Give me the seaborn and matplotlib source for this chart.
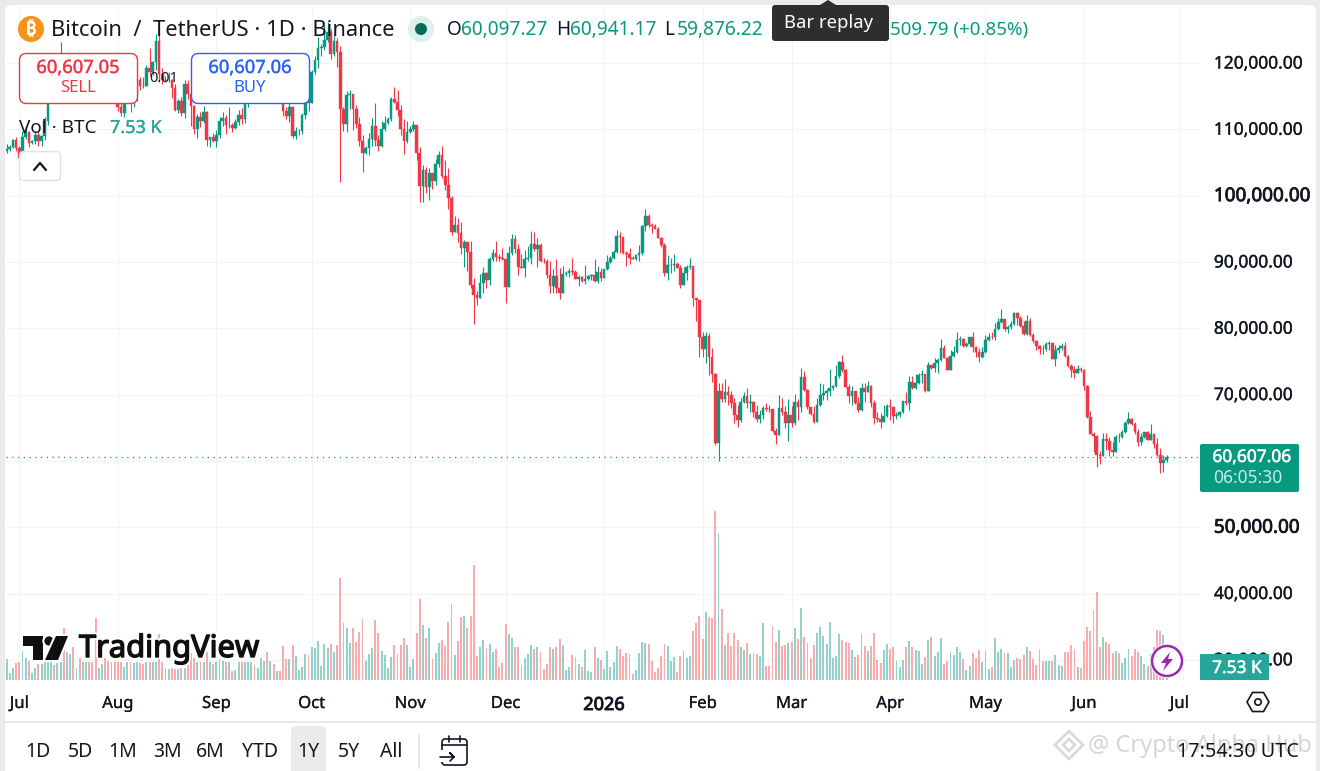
import matplotlib
matplotlib.use('Agg')
import matplotlib.pyplot as plt
import matplotlib.patheffects as pe
from matplotlib.patches import Circle, FancyBboxPatch, Polygon, Rectangle, RegularPolygon
from matplotlib.transforms import ScaledTranslation
import numpy as np
import pandas as pd
import seaborn as sns

# daily candles, one line per month
closes = [
    107100, 107300, 108400, 107150,
    105700, 108850, 109600, 108000, 108250, 109200, 108250, 108950, 111300, 116000, 117500, 117400, 119100, 119800, 117700, 118700, 119200, 117300, 117900, 117300, 117400, 120000, 118700, 118300, 117600, 117900, 119400, 118000, 117800, 117800, 115700,
    113300, 112500, 114200, 115100, 114100, 115000, 117500, 116600, 116500, 119300, 118700, 120200, 123300, 118300, 117400, 117400, 117500, 116200, 112900, 114300, 112500, 116900, 115400, 113500, 110100, 111800, 111200, 112600, 108400, 108800, 108300,
    109200, 111200, 111700, 110700, 110700, 110200, 111100, 112100, 111500, 113900, 115500, 116000, 115300, 115300, 115400, 116800, 116500, 117000, 115600, 115700, 115300, 112700, 112000, 113300, 109000, 109700, 109700, 112100, 114400, 114000,
    118600, 120500, 122200, 122400, 123500, 124700, 121400, 123300, 121700, 113000, 110800, 115100, 115300, 113000, 110800, 108200, 106400, 107200, 108600, 110500, 108400, 107500, 110000, 111000, 111600, 114500, 114100, 112900, 110000, 108300, 109600,
    110050, 110600, 106500, 101500, 103870, 101360, 103370, 102260, 104770, 106130, 103020, 101610, 99700, 94570, 95580, 94320, 92160, 92970, 91560, 86580, 85030, 84620, 86780, 88290, 87290, 90450, 91310, 90750, 90650, 90400,
    86280, 91310, 93470, 91960, 89300, 89150, 90400, 90550, 92710, 91960, 92560, 90200, 90150, 88040, 86380, 87890, 86130, 85330, 88190, 88290, 88590, 88490, 87490, 87790, 87140, 87440, 87940, 88040, 87190, 88440, 87590,
    88900, 90000, 90650, 91510, 93920, 93820, 91310, 91160, 90550, 90500, 91000, 91310, 95430, 96940, 95630, 95430, 95030, 93670, 92560, 88340, 89550, 89600, 89700, 89150, 86530, 88290, 89200, 89400, 84620, 84220, 78750,
    76890, 78850, 75730, 73120, 62770, 70550, 69300, 70400, 69950, 68800, 66940, 66180, 68900, 69800, 68800, 68900, 67440, 66380, 66940, 68000, 67890, 67790, 64520, 63970, 68000, 67440, 65780, 66940,
    65680, 68900, 68190, 72650, 70690, 68070, 67070, 65910, 68430, 69880, 70190, 70540, 70990, 71290, 72800, 74910, 73710, 71140, 69780, 70540, 68780, 67670, 70990, 70390, 71290, 68780, 66470, 66370, 65910, 66820, 68280,
    68080, 66770, 66870, 67370, 69030, 68780, 71900, 70940, 71740, 72950, 73100, 70540, 74460, 74010, 74710, 75210, 77020, 75520, 73710, 75820, 76420, 78230, 78330, 77320, 77580, 78680, 77220, 76370, 75720, 76420,
    78230, 78730, 78680, 79890, 80940, 81400, 79940, 80140, 80640, 82300, 81550, 80340, 79080, 81090, 78980, 78080, 77320, 76870, 76820, 77630, 77730, 75360, 76770, 76970, 77320, 75820, 74310, 73650, 73300, 73860, 73650,
    71290, 66670, 64050, 63800, 60890, 60790, 63300, 63050, 61640, 61390, 63600, 63550, 64410, 65760, 66320, 65560, 64300, 62900, 63550, 64300, 63150, 64000, 62550, 60890, 59630, 60097, 60607,
]
highs = [
    107800, 107600, 108600, 108800,
    107500, 109800, 110500, 109700, 108400, 109700, 109700, 109200, 111900, 116800, 118900, 118000, 119500, 123200, 119900, 120000, 120900, 120800, 118900, 118900, 119700, 120200, 120100, 119500, 118600, 118400, 119800, 119800, 119200, 118800, 118900,
    116000, 114000, 114800, 115700, 115100, 115700, 117700, 117900, 117900, 119700, 122300, 120300, 124400, 124500, 119300, 118000, 118600, 117600, 116800, 114600, 114800, 117400, 117400, 115600, 113600, 112300, 112600, 113500, 112700, 108900, 109500,
    109900, 111800, 112600, 112200, 113400, 111000, 111600, 112900, 113200, 114300, 115500, 116600, 116400, 116000, 116800, 117000, 117300, 118000, 117500, 116200, 115900, 115400, 113400, 114000, 113500, 110300, 110000, 112400, 114800, 114800,
    119000, 121000, 123900, 122900, 125700, 126200, 125100, 124200, 123700, 122500, 113400, 115800, 116000, 115000, 113600, 111900, 109200, 107500, 109400, 111700, 114000, 109200, 111300, 112000, 111900, 114800, 116400, 116000, 113600, 111500, 111200,
    110500, 111200, 110700, 107400, 104620, 104270, 104220, 103470, 105530, 106730, 107490, 105380, 104220, 99950, 96940, 96580, 95980, 93300, 93070, 93170, 87540, 85630, 88190, 89300, 88540, 90700, 91960, 93170, 91210, 92110,
    90400, 92410, 94220, 94070, 92710, 91210, 91810, 92410, 94670, 94520, 93670, 92810, 90550, 90400, 90200, 88890, 90400, 89050, 89450, 88690, 89100, 90600, 88790, 88040, 87890, 89550, 88090, 88190, 90400, 89400, 89050,
    89000, 91000, 90900, 91810, 94820, 94520, 93770, 91660, 92160, 90900, 91110, 92560, 95500, 98000, 97240, 95830, 95730, 95330, 93770, 92860, 91060, 90550, 91210, 90000, 89550, 89200, 89600, 90600, 89400, 84620, 84270,
    79450, 79500, 79250, 76990, 73320, 71710, 71810, 72310, 71310, 70550, 69450, 68440, 69500, 70450, 71060, 70100, 69100, 68440, 67690, 68290, 68690, 68440, 67790, 64920, 69950, 69450, 68340, 69300,
    68340, 70100, 69300, 74000, 73550, 70840, 68180, 68280, 69480, 71690, 71540, 70890, 73860, 71400, 74460, 75000, 75970, 73860, 71590, 71290, 70540, 69680, 71790, 71690, 72050, 71390, 69180, 67420, 67170, 68430, 68580,
    69330, 68130, 67370, 67570, 69100, 70390, 72800, 72800, 73050, 73300, 73700, 73100, 74960, 74460, 75460, 75560, 78330, 77480, 75670, 76720, 77320, 79430, 78830, 78580, 77980, 78730, 79430, 77320, 76970, 77120,
    78980, 79340, 79490, 80740, 81500, 82900, 81400, 80490, 81090, 82450, 82500, 81850, 81140, 82000, 81500, 79340, 78230, 77480, 77480, 77980, 78080, 77830, 77480, 77480, 77730, 77980, 75970, 74610, 74310, 74460, 74210,
    73810, 71390, 67520, 64410, 63900, 61490, 64150, 64150, 63650, 62900, 63900, 64250, 64660, 65960, 67370, 66470, 65910, 64760, 64250, 64350, 64560, 65560, 64050, 63400, 61890, 60890, 60941,
]
lows = [
    106500, 106800, 107200, 106800,
    105300, 105100, 108500, 107300, 107800, 107800, 107500, 107500, 108400, 110600, 115200, 116900, 117250, 118900, 115700, 117300, 117800, 116800, 117200, 116500, 116500, 116100, 117300, 117100, 114700, 117200, 117800, 117400, 116900, 115700, 115500,
    112700, 112000, 111900, 114100, 112600, 113300, 114300, 115900, 116300, 116500, 118100, 118200, 118900, 117200, 116800, 117200, 117200, 114700, 112700, 112400, 112000, 111700, 114600, 110500, 109300, 108700, 110400, 110900, 107500, 107400, 108100,
    107300, 108700, 110500, 109300, 110200, 109600, 110000, 110600, 110800, 110900, 113400, 114300, 115100, 114700, 114400, 114700, 114800, 116300, 115200, 115400, 115100, 112000, 111500, 111100, 108700, 108600, 109100, 109300, 111600, 112700,
    113900, 118400, 119300, 121000, 122000, 123100, 120600, 121000, 119400, 102000, 109700, 109600, 113000, 109900, 110200, 107500, 103500, 106300, 106100, 107500, 107500, 106700, 107300, 109700, 110800, 111200, 113900, 112000, 109200, 106300, 108000,
    109400, 109700, 105300, 99100, 99100, 100450, 99350, 101000, 101600, 104370, 102610, 100850, 98000, 94070, 94570, 93070, 91210, 89300, 88640, 86030, 80700, 83520, 84620, 85380, 86130, 86480, 90200, 90200, 90200, 90300,
    83870, 86280, 91060, 91310, 88090, 89050, 87790, 90200, 89650, 91710, 89300, 89950, 89800, 87640, 85280, 85380, 85380, 84420, 85280, 87940, 87690, 88040, 87390, 86430, 86990, 86630, 87240, 87290, 86990, 86890, 87190,
    87590, 88800, 89800, 90400, 91410, 91310, 91210, 89400, 89700, 90400, 90250, 90200, 91110, 94720, 95230, 94320, 94930, 93570, 92210, 87890, 87290, 88290, 88690, 89050, 86130, 86530, 87290, 89000, 83370, 81160, 75730,
    75730, 74720, 72970, 71960, 62410, 60050, 68950, 68950, 68440, 67940, 65680, 65180, 65930, 68800, 68040, 67440, 66580, 65880, 65780, 66380, 67590, 67440, 64420, 62610, 63970, 66940, 65030, 63070,
    65180, 65430, 66180, 67420, 70500, 67870, 66920, 65660, 65910, 68330, 69180, 69180, 69780, 70690, 71140, 72450, 73450, 71090, 68780, 68430, 68580, 67420, 67570, 68930, 70390, 68180, 65560, 65860, 65010, 65910, 66670,
    66160, 65760, 66370, 66670, 67220, 68430, 67670, 70840, 70890, 71590, 71690, 70450, 70540, 73910, 73450, 73200, 75110, 75470, 73650, 73710, 75620, 76220, 77480, 77220, 77120, 77320, 76470, 75720, 74960, 75470,
    76320, 78130, 78330, 78230, 79740, 80740, 79640, 79240, 79840, 80490, 80490, 80140, 78930, 78980, 78830, 77730, 76720, 76120, 76120, 76620, 76720, 75300, 74310, 76220, 76720, 75720, 74210, 72700, 72550, 73200, 73450,
    70690, 66420, 64000, 61390, 59130, 59530, 60790, 61640, 60790, 60790, 61390, 62900, 63500, 64250, 65510, 65410, 64050, 62240, 62390, 63450, 63100, 63150, 61990, 60800, 58220, 58370, 59876,
]
# volume in thousand BTC
volumes = [
    21, 7, 12, 17,
    18, 29, 22, 19, 7, 12, 16, 16, 18, 18, 18, 15, 17, 18, 52, 28, 26, 33, 12, 22, 18, 18, 18, 18, 62, 12, 16, 22, 19, 18, 18,
    18, 18, 13, 18, 18, 17, 18, 17, 16, 18, 18, 18, 18, 46, 18, 12, 11, 12, 11, 11, 12, 12, 15, 27, 22, 18, 18, 18, 28, 18, 16,
    18, 21, 19, 18, 18, 9, 10, 18, 18, 18, 18, 18, 15, 12, 22, 19, 28, 19, 16, 9, 9, 34, 21, 21, 35, 24, 10, 13, 26, 25,
    33, 32, 39, 14, 36, 32, 36, 28, 35, 102, 57, 52, 37, 52, 38, 48, 61, 19, 26, 32, 60, 47, 29, 25, 12, 23, 35, 26, 35, 42, 35,
    13, 21, 47, 81, 55, 42, 52, 21, 27, 37, 40, 34, 58, 76, 25, 39, 63, 64, 52, 64, 115, 24, 33, 40, 32, 36, 28, 31, 13, 17,
    56, 46, 42, 33, 33, 15, 22, 26, 35, 31, 33, 28, 11, 16, 33, 31, 33, 41, 35, 10, 13, 25, 23, 16, 13, 30, 9, 8, 33, 22, 20,
    11, 29, 13, 18, 34, 31, 24, 27, 26, 6, 10, 27, 38, 37, 36, 19, 8, 12, 24, 36, 34, 19, 23, 8, 24, 29, 22, 24, 49, 57, 64,
    41, 68, 63, 62, 169, 147, 71, 35, 47, 34, 47, 40, 33, 30, 37, 26, 27, 26, 24, 57, 14, 14, 54, 38, 50, 34, 35, 37,
    38, 52, 41, 72, 43, 37, 22, 35, 47, 53, 44, 36, 58, 22, 24, 46, 40, 38, 37, 30, 23, 25, 46, 34, 29, 34, 47, 20, 17, 30, 36,
    31, 33, 19, 13, 20, 33, 39, 33, 30, 29, 16, 23, 40, 43, 24, 28, 42, 16, 19, 28, 25, 33, 28, 21, 10, 14, 27, 22, 30, 18,
    29, 11, 13, 42, 28, 31, 27, 27, 13, 20, 22, 21, 25, 33, 29, 21, 15, 31, 19, 19, 19, 19, 25, 15, 14, 28, 28, 35, 31, 13, 12,
    39, 53, 49, 70, 88, 33, 43, 38, 36, 27, 29, 27, 17, 22, 31, 24, 31, 28, 24, 16, 14, 26, 33, 50, 49, 45, 8,
]
first_open = 106800
price_ticks = [30000, 40000, 50000, 60000, 70000, 80000, 90000, 100000, 110000, 120000]
month_starts = ['2025-07-01', '2025-08-01', '2025-09-01', '2025-10-01', '2025-11-01', '2025-12-01',
                '2026-01-01', '2026-02-01', '2026-03-01', '2026-04-01', '2026-05-01', '2026-06-01', '2026-07-01']
month_labels = ['Jul', 'Aug', 'Sep', 'Oct', 'Nov', 'Dec', '2026', 'Feb', 'Mar', 'Apr', 'May', 'Jun', 'Jul']
last_price = 60607.06

UP = '#089981'
DOWN = '#f23645'
UP_VOL = '#92d2ca'
DOWN_VOL = '#f9abae'
INK = '#131722'

sns.set_theme(style='whitegrid', rc={'grid.color': '#f3f3f3', 'grid.linewidth': 0.75})
plt.rcParams['font.family'] = ['Noto Sans', 'DejaVu Sans']

start = pd.Timestamp('2025-07-01')
dates = pd.date_range('2025-06-27', periods=len(closes))
df = pd.DataFrame({'date': dates, 'close': closes, 'high': highs, 'low': lows, 'volume': volumes})
df['day'] = (df['date'] - start).dt.days
df['open'] = df['close'].shift(1).fillna(first_open)
df['direction'] = np.where(df['close'] >= df['open'], 'up', 'down')
df['color'] = df['direction'].map({'up': UP, 'down': DOWN})

fig = plt.figure(figsize=(13.2, 7.71), dpi=100, facecolor='#ebebeb')


def pane_axes(zorder, rect=(0, 0, 1, 1)):
    a = fig.add_axes(rect, zorder=zorder, facecolor='none')
    a.set_xlim(0, 1320)
    a.set_ylim(771, 0)
    a.axis('off')
    return a


def heavy(width, color):
    return [pe.withStroke(linewidth=width, foreground=color)]


back = pane_axes(0)
back.add_patch(FancyBboxPatch((5, 5), 1311, 780, boxstyle='round,pad=0,rounding_size=7', fc='white', ec='none'))
back.plot([5, 1316], [722, 722], color='#e4e4e4', lw=1.2)

# price pane sits on pixels x 6-1200, y 6-680
ax = fig.add_axes([6 / 1320, 1 - 680 / 771, 1194 / 1320, 674 / 771], zorder=1, facecolor='none')
ax_vol = ax.twinx()
ax_vol.set_zorder(2)
ax_vol.patch.set_visible(False)

sns.barplot(data=df, x='day', y='volume', hue='direction', hue_order=['up', 'down'],
            palette={'up': UP_VOL, 'down': DOWN_VOL}, native_scale=True, dodge=False,
            width=0.6, saturation=1, errorbar=None, legend=False, linewidth=0, edgecolor='none', ax=ax_vol)
ax_vol.set_ylim(0, 674)
ax_vol.set_xlabel('')
ax_vol.set_ylabel('')
ax_vol.grid(False)
ax_vol.tick_params(left=False, right=False, labelleft=False, labelright=False)

ax.vlines(df['day'], df['low'], df['high'], colors=df['color'], lw=0.8, zorder=3)
ax.bar(df['day'], (df['close'] - df['open']).abs(), bottom=df[['open', 'close']].min(axis=1),
       width=0.84, color=df['color'], edgecolor=df['color'], linewidth=0.3, zorder=4)
ax.axhline(last_price, color=UP, lw=0.9, ls=(0, (1, 3.6)), zorder=2)

ax.set_xlim(-4.185, 371.5)
ax.set_ylim(26956, 128596)
ax.set_yticks(price_ticks)
ax.set_yticklabels([f'{p:,.2f}' for p in price_ticks])
ax.set_xticks([(pd.Timestamp(m) - start).days for m in month_starts])
ax.set_xticklabels(month_labels)
ax.yaxis.tick_right()
ax.tick_params(axis='y', length=0, pad=10, labelsize=12.5, labelcolor=INK)
ax.tick_params(axis='x', length=0, pad=11.5, labelsize=12, labelcolor=INK)
ax.grid(True)
ax.set_axisbelow(True)
for side in ax.spines:
    ax.spines[side].set_visible(False)
    ax_vol.spines[side].set_visible(False)
# labels sit a little above their grid line in the original
nudge = ScaledTranslation(0, 1.5 / 100, fig.dpi_scale_trans)
for lab in ax.get_yticklabels():
    lab.set_transform(lab.get_transform() + nudge)
    lab.set_path_effects(heavy(0.25, INK))
    if lab.get_text() in ('100,000.00', '50,000.00'):
        lab.set_fontsize(13.6)
        lab.set_path_effects(heavy(0.6, INK))
for lab in ax.get_xticklabels():
    lab.set_path_effects(heavy(0.2, INK))
    if lab.get_text() == '2026':
        lab.set_fontsize(13)
        lab.set_path_effects(heavy(0.7, INK))

# everything below is the app chrome around the chart, placed in screen pixels
ui = pane_axes(5)


def put(x, y, s, size=12.5, color=INK, ha='left', **kw):
    return ui.text(x, y + 2, s, fontsize=size, color=color, ha=ha, va='center', **kw)


def box(x, y, w, h, fc='white', ec='none', r=4, lw=1.0, z=1):
    ui.add_patch(FancyBboxPatch((x, y), w, h, boxstyle=f'round,pad=0,rounding_size={r}', fc=fc, ec=ec, lw=lw, zorder=z))


# header
ui.add_patch(Circle((31, 29), 13, fc='#f7931a', ec='none'))
put(31, 27.5, '₿', size=13, color='white', ha='center',
    family=['Noto Sans', 'Roboto', 'Open Sans', 'Lato', 'Inter', 'Liberation Sans', 'Noto Sans CJK SC', 'DejaVu Sans'],
    path_effects=heavy(0.6, 'white'))
put(51, 28, 'Bitcoin  /  TetherUS · 1D · Binance', size=15.8)
ui.add_patch(Circle((421, 29), 13, fc='#dcf0ec', ec='none'))
ui.add_patch(Circle((421, 29), 6, fc='#06695a', ec='none'))
for x_l, letter, x_v, val in [(447, 'O', 461, '60,097.27'), (556, 'H', 570, '60,941.17'), (664, 'L', 677, '59,876.22')]:
    put(x_l, 28, letter, size=13.7)
    put(x_v, 28, val, size=13.7, color=UP)
put(890, 28, '509.79 (+0.85%)', size=13.5, color=UP)
ui.add_patch(Polygon([[820, 5], [828, 0], [836, 5]], fc='#2e2e2e', ec='none', zorder=3))
box(772, 5, 117, 36, fc='#2e2e2e', r=3, z=3)
t = put(828, 21, 'Bar replay', size=13.3, color='white', ha='center')
t.set_zorder(4)

# sell / buy
box(19.5, 53.5, 118, 50, ec=DOWN, r=7)
put(78, 66, '60,607.05', size=13.2, color=DOWN, ha='center', path_effects=heavy(0.25, DOWN))
put(78, 86, 'SELL', size=12, color=DOWN, ha='center')
box(191.5, 53.5, 118, 50, ec='#2962ff', r=7)
put(250, 66, '60,607.06', size=13.2, color='#2962ff', ha='center', path_effects=heavy(0.25, '#2962ff'))
put(250, 86, 'BUY', size=12, color='#2962ff', ha='center')
put(164, 77, '0.01', size=10.5, ha='center')
put(19, 126, 'Vol · BTC', size=13.6)
put(110, 126, '7.53 K', size=13, color='#26a69a', path_effects=heavy(0.2, '#26a69a'))
box(19.5, 151.5, 41, 29, ec='#e0e0e0')
ui.plot([34, 40, 46], [170, 163, 170], color=INK, lw=1.6)

# logo
mark = [Polygon([[23, 636], [43, 636], [43, 660], [33, 660], [33, 646], [23, 646]], fc='#0f0f0f', ec='none'),
        Circle((49, 641), 4.6, fc='#0f0f0f', ec='none'),
        Polygon([[56, 636], [68, 636], [58, 660], [45, 660]], fc='#0f0f0f', ec='none')]
for m in mark:
    ui.add_patch(m)
    m.set_path_effects([pe.withStroke(linewidth=3, foreground='white')])
put(79, 647, 'TradingView', size=22.2, color='#0f0f0f',
    path_effects=[pe.withStroke(linewidth=3.5, foreground='white'), pe.withStroke(linewidth=1.0, foreground='#0f0f0f')])

# last price and volume tags
box(1200, 444, 99, 48, fc=UP, r=2)
put(1252, 455, '60,607.06', size=12.5, color='white', ha='center', path_effects=heavy(0.35, 'white'))
put(1248, 476, '06:05:30', size=12.5, color='#cdeae5', ha='center')
box(1200, 654, 69, 26, fc='#26a69a', r=1)
put(1237, 666, '7.53 K', size=12.5, color='white', ha='center', path_effects=heavy(0.35, 'white'))
ui.add_patch(Circle((1167, 661), 17, fc='white', ec='none'))
ui.add_patch(Circle((1167, 661), 15, fc='white', ec='#9c27b0', lw=1.8))
ui.add_patch(Polygon([[1170, 652], [1161, 663], [1166, 663], [1163, 671], [1173, 659], [1168, 659]], fc='#9c27b0', ec='none'))

# settings hexagon
ui.add_patch(RegularPolygon((1258, 702), 6, radius=11, orientation=np.pi / 2, fc='white', ec=INK, lw=1.2))
ui.add_patch(Circle((1258, 702), 3.2, fc='white', ec=INK, lw=1.2))

# range buttons
box(291, 726, 35, 60, fc='#ebebeb', r=5)
for x, s in zip([38, 80, 123, 167, 210, 260, 308, 349, 391], ['1D', '5D', '1M', '3M', '6M', 'YTD', '1Y', '5Y', 'All']):
    put(x, 750, s, size=14, ha='center')
ui.plot([419, 419], [735, 768], color='#e0e0e0', lw=1.2)
box(442, 739, 25, 26, ec=INK, r=3, lw=1.2)
ui.add_patch(Rectangle((439, 750), 12, 12, fc='white', ec='none', zorder=2))
ui.plot([442, 467], [745, 745], color=INK, lw=1.2, zorder=3)
ui.plot([449, 449], [736, 742], color=INK, lw=1.2, zorder=3)
ui.plot([460, 460], [736, 742], color=INK, lw=1.2, zorder=3)
ui.plot([440, 454, 450, 454, 450], [757, 757, 753, 757, 761], color=INK, lw=1.2, zorder=3)

# watermark and clock
ui.add_patch(RegularPolygon((1069, 745), 4, radius=14, fc='none', ec='#d9d9d9', lw=2))
ui.add_patch(RegularPolygon((1069, 745), 4, radius=6, fc='none', ec='#d9d9d9', lw=2))
put(1088, 744, '@ Crypto Alpha Hub', size=17, color='#d6d6d6')
put(1177, 750, '17:54:30 UTC', size=14.3)

fig.savefig('out.png', dpi=100, facecolor=fig.get_facecolor())
